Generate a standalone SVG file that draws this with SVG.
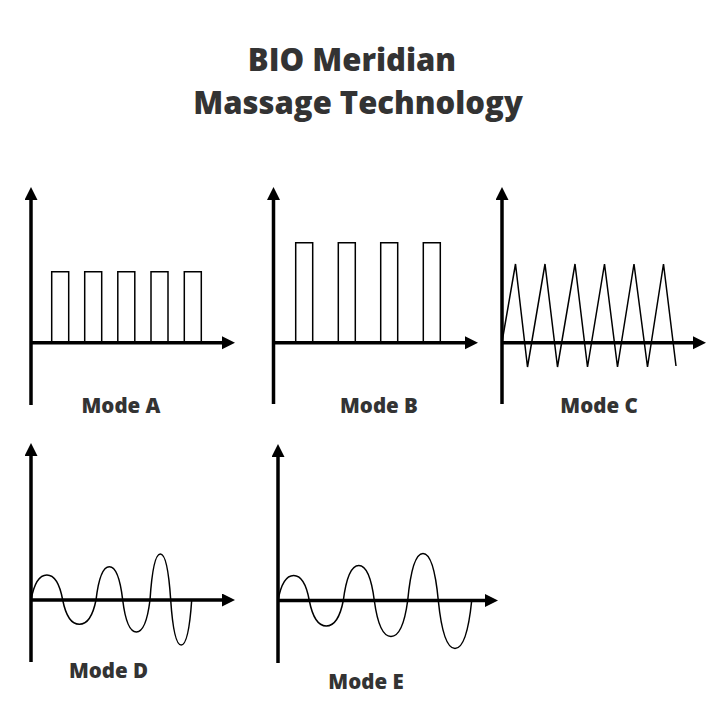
<svg xmlns="http://www.w3.org/2000/svg" width="720" height="720" viewBox="0 0 720 720">
<style>
.title{font-family:"Open Sans","Liberation Sans",sans-serif;font-weight:800;font-size:31px;fill:#333;text-anchor:middle}
.label{font-family:"Open Sans","Liberation Sans",sans-serif;font-weight:800;font-size:20.5px;fill:#333;text-anchor:middle}
.axis{stroke:#000;stroke-width:3.5;fill:none;marker-end:url(#arrow)}
.wave{stroke:#000;stroke-width:1.5;fill:none;stroke-linejoin:miter}
</style>
<defs>
<marker id="arrow" markerUnits="userSpaceOnUse" markerWidth="14" markerHeight="14" refX="3" refY="6.5" orient="auto">
<path d="M0,0 L13,6.5 L0,13 z" fill="#000"/>
</marker>
</defs>
<rect width="720" height="720" fill="#fff"/>
<g id="title">
<text class="title" x="352" y="71">BIO Meridian</text>
<text class="title" x="358" y="114">Massage Technology</text>
</g>
<g id="mode-a">
<path class="axis" d="M31,405 V197"/>
<path class="axis" d="M31,342.7 H225"/>
<path class="wave" d="M51.7,342.7 V271.7 H68.7 V342.7 M84.7,342.7 V271.7 H101.7 V342.7 M117.8,342.7 V271.7 H134.8 V342.7 M151,342.7 V271.7 H168 V342.7 M184.3,342.7 V271.7 H201.3 V342.7"/>
<text class="label" x="121" y="413">Mode A</text>
</g>
<g id="mode-b">
<path class="axis" d="M273.5,404 V197"/>
<path class="axis" d="M273.5,342.7 H468"/>
<path class="wave" d="M295.7,342.7 V242.7 H312.7 V342.7 M338.3,342.7 V242.7 H355.3 V342.7 M380.7,342.7 V242.7 H397.7 V342.7 M423.3,342.7 V242.7 H440.3 V342.7"/>
<text class="label" x="379" y="413">Mode B</text>
</g>
<g id="mode-c">
<path class="axis" d="M502,404 V197"/>
<path class="axis" d="M502,342.7 H696"/>
<path class="wave" d="M502,342 L515.5,264 L527.5,367 L545,264 L557.5,367 L575,264 L587.5,367 L604.5,264 L617.5,367 L634,264 L647.5,367 L663.5,264 L676,366"/>
<text class="label" x="599" y="413">Mode C</text>
</g>
<g id="mode-d">
<path class="axis" d="M31,662 V453"/>
<path class="axis" d="M31,600 H225"/>
<path class="wave" d="M31,600 C33.54,586.25 38.61,575 46.85,575 C55.09,575 60.16,586.25 62.7,600 C65.36,613.37 70.69,624.3 79.35,624.3 C88.01,624.3 93.34,613.37 96,600 C98.14,581.68 102.41,566.7 109.35,566.7 C116.29,566.7 120.56,581.68 122.7,600 C124.88,617.6 129.25,632 136.35,632 C143.45,632 147.82,617.6 150,600 C151.66,574.7 154.97,554 160.35,554 C165.73,554 169.04,574.7 170.7,600 C172.38,624.75 175.74,645 181.2,645 C186.66,645 190.02,624.75 191.7,600"/>
<text class="label" x="108.5" y="678">Mode D</text>
</g>
<g id="mode-e">
<path class="axis" d="M278,663 V454"/>
<path class="axis" d="M278,600.5 H488"/>
<path class="wave" d="M278,600.5 C280.5,586.75 285.51,575.5 293.65,575.5 C301.79,575.5 306.8,586.75 309.3,600.5 C312.02,614.53 317.46,626 326.3,626 C335.14,626 340.58,614.53 343.3,600.5 C345.78,581.25 350.74,565.5 358.8,565.5 C366.86,565.5 371.82,581.25 374.3,600.5 C376.97,620.3 382.32,636.5 391,636.5 C399.68,636.5 405.03,620.3 407.7,600.5 C410.15,574.65 415.04,553.5 423,553.5 C430.96,553.5 435.85,574.65 438.3,600.5 C440.97,626.9 446.32,648.5 455,648.5 C463.68,648.5 469.03,626.9 471.7,600.5"/>
<text class="label" x="366" y="689">Mode E</text>
</g>
</svg>
